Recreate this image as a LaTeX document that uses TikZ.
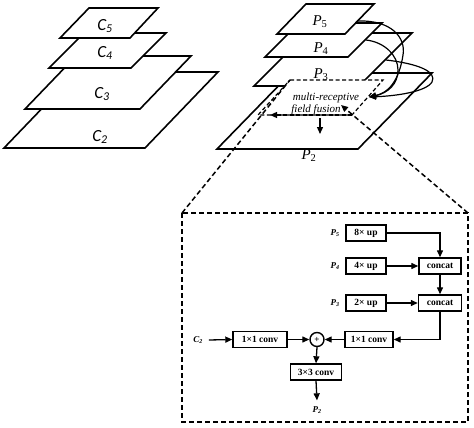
\documentclass[tikz,border=0pt]{standalone}
\usepackage{fontspec}
\setmainfont{Liberation Serif}
\newfontfamily\carl{Carlito}
\usetikzlibrary{arrows.meta}
\begin{document}
\begin{tikzpicture}[x=1pt,y=-1pt,line join=miter,
  plane/.style={draw=black,fill=white,line width=1.6pt},
  dplane/.style={draw=black,fill=white,line width=1.2pt,dash pattern=on 4pt off 2.5pt},
  zoomline/.style={draw=black,line width=1.5pt,dash pattern=on 5pt off 3pt},
  curvearr/.style={draw=black,line width=1.2pt,-{Triangle[length=7pt,width=6pt]}},
  arr/.style={draw=black,line width=1.3pt,-{Triangle[length=7pt,width=6pt]}},
  blk/.style={draw=black,line width=1.4pt,fill=white,inner sep=0pt,minimum height=16pt,font=\bfseries\fontsize{9.5}{10}\selectfont},
  clab/.style={font=\carl\itshape\fontsize{17}{18}\selectfont,inner sep=0pt},
  plab/.style={font=\itshape\fontsize{15}{16}\selectfont,inner sep=0pt},
  slab/.style={font=\bfseries\itshape\fontsize{9}{10}\selectfont,inner sep=0pt},
  ftext/.style={font=\itshape\fontsize{11}{12}\selectfont,inner sep=0pt}]
\useasboundingbox (0,0) rectangle (474,428);
% left stack
\draw[plane] (77,72) -- (218,72) -- (145,148) -- (4,148) -- cycle;
\draw[plane] (76,56) -- (191,56) -- (140,109) -- (25,109) -- cycle;
\draw[plane] (84,33) -- (166,33) -- (131,68) -- (49,68) -- cycle;
\draw[plane] (89,8) -- (158,8) -- (130,38) -- (60,38) -- cycle;
\node[clab] (c5) at (105,26) {C\textsubscript{5}};
\node[clab] (c4) at (105,53) {C\textsubscript{4}};
\node[clab] (c3) at (102,94) {C\textsubscript{3}};
\node[clab] (c2) at (100,137) {C\textsubscript{2}};
% right stack
\draw[plane] (291,73) -- (432,73) -- (358,149) -- (217,149) -- cycle;
\draw[plane] (307,33) -- (412,33) -- (359,86) -- (254,86) -- cycle;
\draw[dplane] (290,80) coordinate (dtl) -- (383,80) -- (352,115) coordinate (dbr) -- (258,115) -- cycle;
\draw[plane] (299,23) -- (382,23) -- (348,57) -- (265,57) -- cycle;
\draw[plane] (306,4) -- (374,4) -- (345,34) -- (277,34) -- cycle;
\node[plab] (p5) at (320,22) {P\textsubscript{\upshape 5}};
\node[plab] (p4) at (321,49) {P\textsubscript{\upshape 4}};
\node[plab] (p3) at (321,75) {P\textsubscript{\upshape 3}};
\node[plab] (p2) at (309,156) {P\textsubscript{\upshape 2}};
\node[ftext] (mr) at (326,98) {multi-receptive};
\node[ftext] (ff) at (316,110) {field fusion};
\coordinate (fa) at (320,118);
\coordinate (fb) at (320,134);
\draw[arr] (fa) -- (fb);
% curves
\coordinate (tip) at (369,97);
\coordinate (sa) at (358,21);
\coordinate (sb) at (366,40);
\coordinate (sc) at (386,60);
\draw[curvearr] (sa) .. controls (392,20) and (406,38) .. (403,55) .. controls (400,75) and (392,92) .. (tip);
\draw[curvearr] (sb) .. controls (384,42) and (398,55) .. (398,70) .. controls (398,84) and (388,93) .. (tip);
\draw[curvearr] (sc) .. controls (420,64) and (437,72) .. (432,82) .. controls (426,92) and (395,96) .. (tip);
% zoom box
\coordinate (btl) at (182,213);
\coordinate (btr) at (468,213);
\coordinate (bbr) at (468,422);
\draw[zoomline] (btl) rectangle (bbr);
\draw[zoomline] (btl) -- (dtl);
\coordinate (za) at (341,105);
\draw[zoomline,-{Triangle[length=7pt,width=6pt]}] (btr) -- (za);
\coordinate (zl) at (270,115);
\draw[dplane,fill=none,-{Triangle[length=7pt,width=6pt]}] (dbr) -- (zl);
% block diagram
\node[blk,minimum width=40pt] (u8) at (366,233) {8× up};
\node[blk,minimum width=40pt] (u4) at (366,266) {4× up};
\node[blk,minimum width=40pt] (u2) at (366,303) {2× up};
\node[blk,minimum width=42pt] (k1) at (440,266) {concat};
\node[blk,minimum width=43pt] (k2) at (440,303) {concat};
\node[blk,minimum width=48pt] (cr) at (369,339.5) {1×1 conv};
\node[blk,minimum width=54pt] (cl) at (260,339.5) {1×1 conv};
\node[draw=black,line width=1.4pt,circle,minimum size=14pt,inner sep=0pt,font=\bfseries\fontsize{9}{10}\selectfont] (plus) at (317,339.5) {+};
\node[blk,minimum width=51pt] (c33) at (316,372) {3×3 conv};
\node[slab] (l5) at (335,233) {P\textsubscript{5}};
\node[slab] (l4) at (335,266) {P\textsubscript{4}};
\node[slab] (l3) at (335,303) {P\textsubscript{3}};
\node[slab] (lc2) at (198,340) {C\textsubscript{2}};
\node[slab] (lp2) at (317,410) {P\textsubscript{2}};
\draw[arr] (u8.east) -| (k1.north);
\draw[arr] (u4.east) -- (k1.west);
\draw[arr] (u2.east) -- (k2.west);
\draw[arr] (k1.south) -- (k2.north);
\draw[arr] (k2.south) |- (cr.east);
\draw[arr] (cr.west) -- (plus.east);
\draw[arr] (cl.east) -- (plus.west);
\draw[arr] (lc2.east) ++(6pt,0) coordinate (c2s) (c2s) -- (cl.west);
\draw[arr] (plus.south) -- (c33.north);
\draw[arr] (c33.south) -- ([yshift=6pt]lp2.north);
\end{tikzpicture}
\end{document}
